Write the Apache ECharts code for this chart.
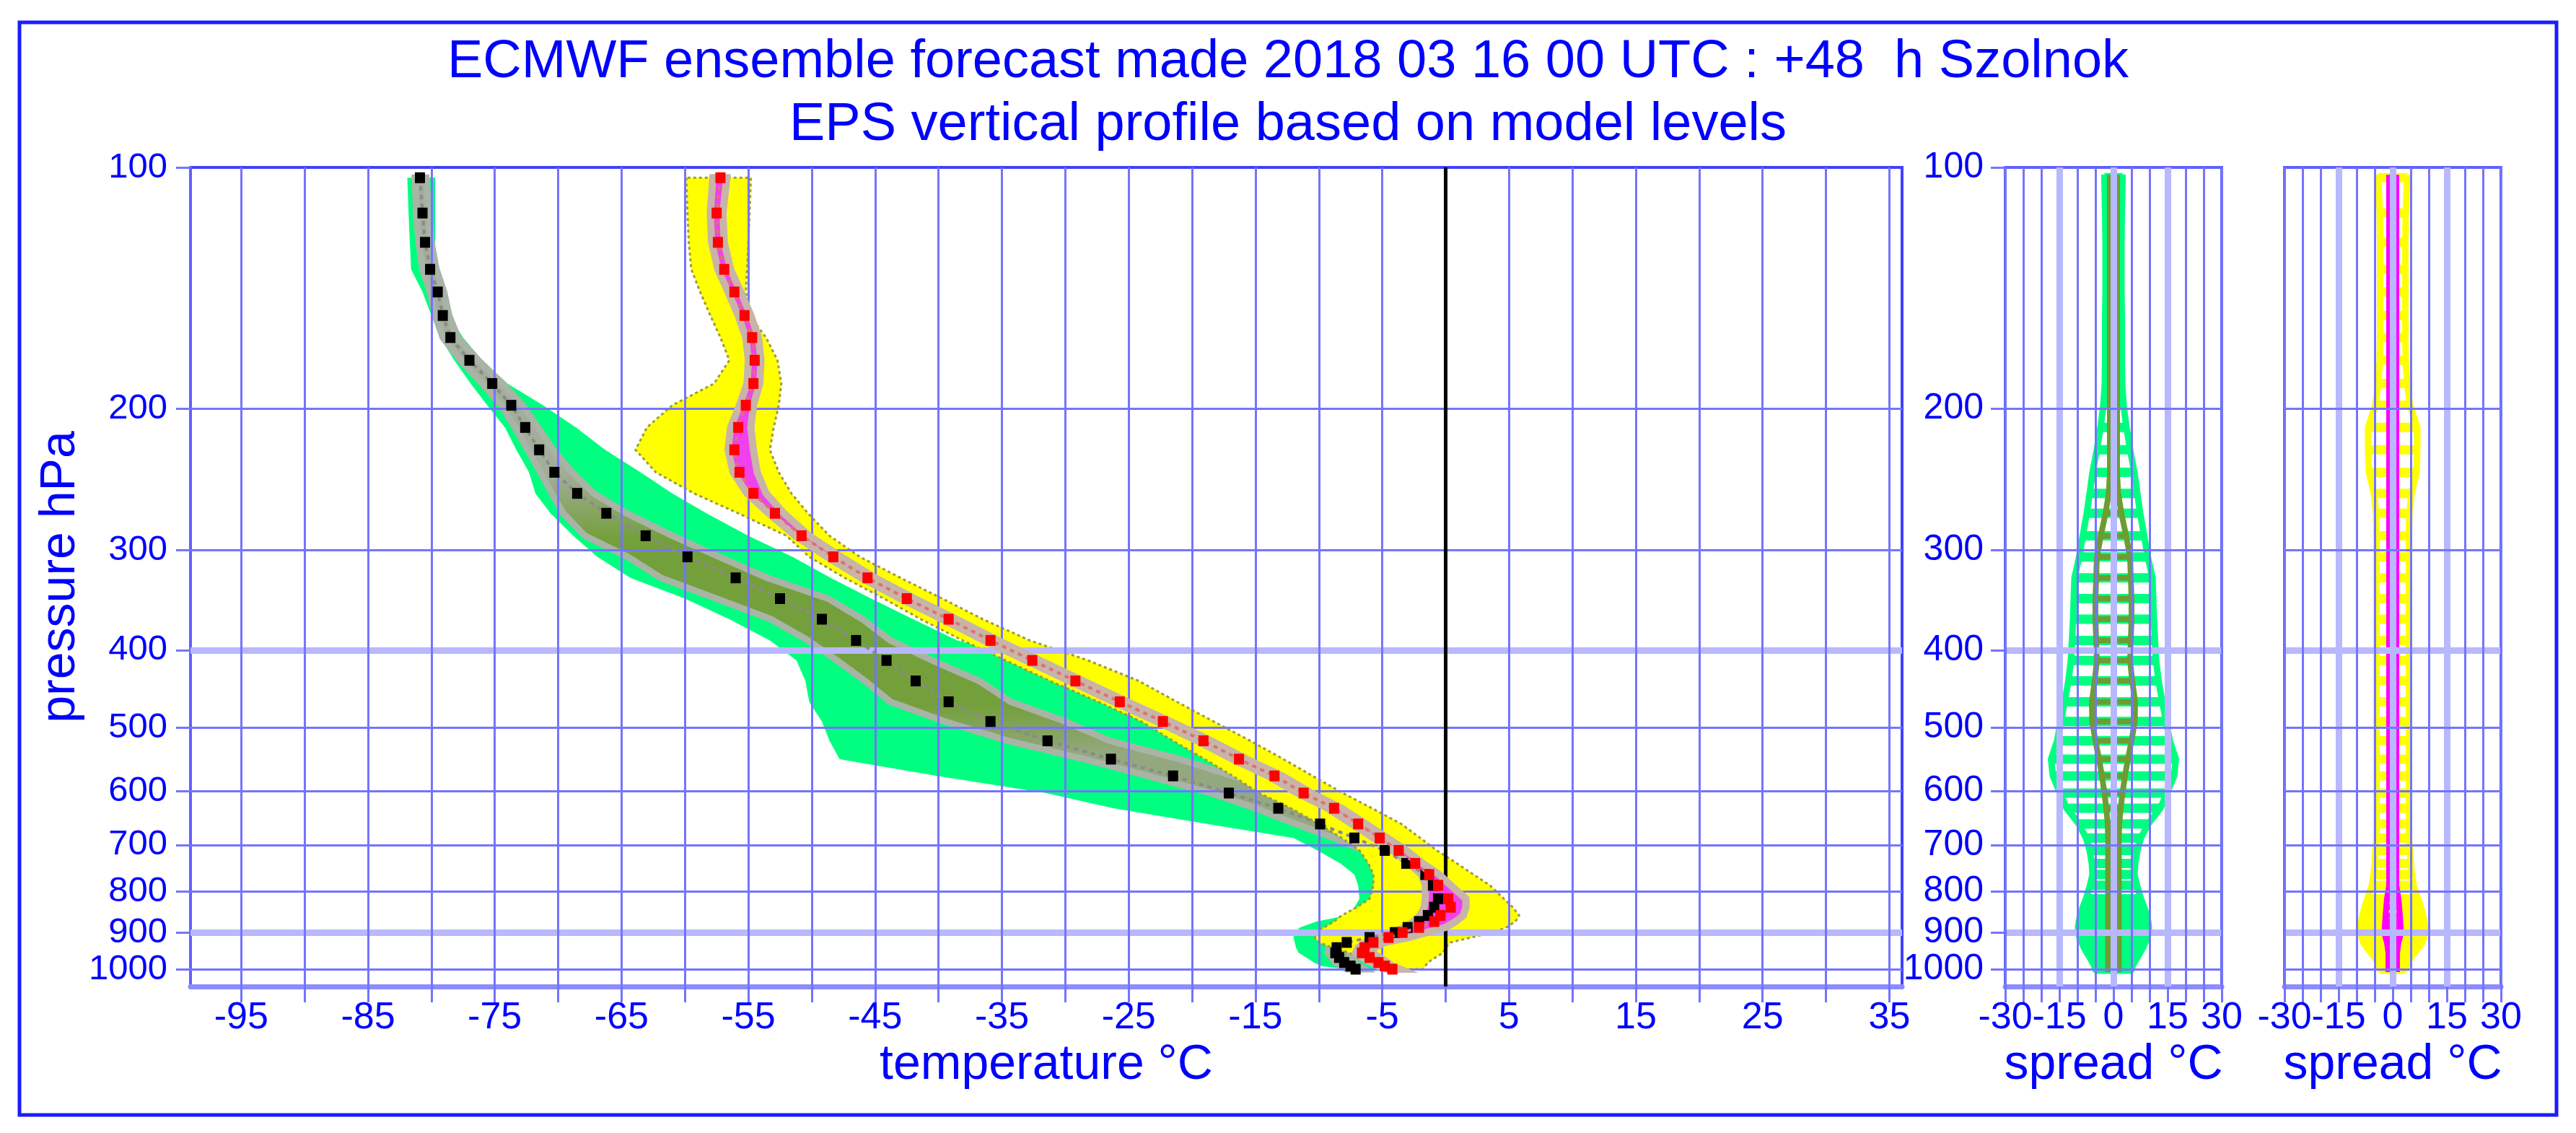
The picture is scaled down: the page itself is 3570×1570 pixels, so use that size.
<!DOCTYPE html>
<html><head><meta charset="utf-8">
<script src="https://cdn.jsdelivr.net/npm/echarts@6/dist/echarts.min.js"></script>
<style>html,body{margin:0;padding:0;background:#fff}#c{width:3570px;height:1570px}</style>
</head><body><div id="c"></div>
<script>
// ---------- data ----------
const levels = [103,114,124,134,143,153,163,174,186,198, 211,225,240,255,270,288,306,325,345,366,
  389,412,437,464,491,519,547,574,603,630, 659,686,711,738,762,786,817,837,857,872,
  887,900,913,926,940,954,967,981,991,1000];

// green profile (black dots)
const dewCtl = [-80.9,-80.7,-80.5,-80.1,-79.5,-79.1,-78.5,-77.0,-75.2,-73.7,
  -72.6,-71.5,-70.3,-68.5,-66.2,-63.1,-59.8,-56.0,-52.5,-49.2,
  -46.5,-44.1,-41.8,-39.2,-35.9,-31.4,-26.4,-21.5,-17.1,-13.2,
  -9.9,-7.2,-4.8,-3.1,-1.6,-1.0,-0.6,-0.9,-1.4,-2.1,
  -3.0,-4.0,-6.0,-7.8,-8.6,-8.7,-8.4,-8.0,-7.5,-7.1];
const dewMin = [-81.9,-81.8,-81.7,-81.6,-80.7,-80.0,-79.3,-78.2,-76.9,-75.6,
  -74.2,-73.3,-72.3,-71.8,-70.6,-68.8,-66.9,-64.3,-60.0,-56.5,
  -53.3,-51.2,-50.5,-50.2,-49.2,-48.6,-47.8,-40.1,-31.5,-26.2,
  -18.8,-12.0,-10.1,-8.3,-7.2,-6.9,-6.8,-7.2,-7.8,-10.2,
  -11.5,-11.9,-12.0,-11.9,-11.8,-11.6,-11.0,-10.4,-9.8,-7.8];
const dewMax = [-79.7,-79.7,-79.7,-79.7,-79.2,-78.6,-77.5,-76.0,-74.0,-71.2,
  -68.6,-66.3,-63.5,-61.0,-58.3,-55.0,-51.5,-48.5,-45.3,-42.0,
  -38.5,-32.0,-28.4,-25.5,-22.6,-20.2,-18.0,-15.8,-13.8,-11.8,
  -8.5,-5.5,-3.2,-1.5,-0.2,0.8,1.0,0.8,0.5,-0.2,
  -1.0,-2.0,-3.5,-5.0,-5.4,-5.5,-5.3,-5.0,-4.6,-4.3];
const dewLo = [-81.3,-81.2,-81.0,-80.7,-80.1,-79.7,-79.1,-77.7,-76.0,-74.5,
  -73.4,-72.4,-71.4,-70.5,-69.6,-67.9,-64.5,-61.9,-57.5,-53.2,
  -50.3,-48.0,-45.8,-43.8,-39.5,-34.5,-28.5,-23.5,-18.5,-15.0,
  -11.8,-8.8,-6.5,-4.5,-3.0,-2.2,-1.8,-2.0,-2.5,-3.2,
  -4.0,-5.2,-7.0,-8.6,-9.2,-9.3,-9.0,-8.7,-8.2,-7.8];
const dewHi = [-80.4,-80.2,-80.0,-79.6,-79.0,-78.6,-77.9,-76.3,-74.4,-72.8,
  -71.6,-70.4,-68.9,-67.2,-64.6,-61.0,-57.3,-53.5,-48.7,-46.0,
  -43.8,-40.5,-36.8,-34.3,-30.0,-26.5,-21.0,-16.8,-13.2,-10.8,
  -8.6,-6.0,-4.2,-2.5,-1.0,-0.2,0.2,0.0,-0.5,-1.2,
  -2.0,-3.0,-5.0,-6.5,-7.4,-7.6,-7.4,-7.1,-6.8,-6.4];

// yellow profile (red dots)
const tCtl = [-57.2,-57.5,-57.4,-56.9,-56.1,-55.3,-54.7,-54.5,-54.6,-55.2,
  -55.8,-56.1,-55.7,-54.6,-52.9,-50.8,-48.3,-45.6,-42.5,-39.2,
  -35.9,-32.6,-29.2,-25.7,-22.3,-19.1,-16.3,-13.5,-11.2,-8.8,
  -6.9,-5.2,-3.7,-2.4,-1.3,-0.6,0.2,0.4,-0.4,-0.9,
  -2.1,-3.4,-4.5,-5.7,-6.4,-6.6,-6.0,-5.3,-4.8,-4.2];
const tMin = [-59.9,-59.8,-59.7,-59.5,-58.8,-58.0,-57.2,-56.5,-57.7,-61.0,
  -63.0,-63.9,-62.3,-59.3,-55.8,-52.0,-50.2,-47.4,-44.3,-41.4,
  -38.1,-34.7,-31.2,-27.4,-24.0,-21.5,-19.0,-16.8,-14.7,-12.2,
  -10.0,-8.2,-6.8,-6.1,-5.7,-5.7,-6.0,-7.0,-8.2,-8.8,
  -9.6,-10.3,-10.3,-10.0,-8.9,-7.6,-6.8,-6.0,-5.4,-4.8];
const tMax = [-54.8,-54.9,-55.0,-55.1,-55.2,-54.9,-53.6,-52.7,-52.4,-52.6,
  -53.0,-53.3,-52.6,-51.6,-50.3,-48.6,-46.2,-43.0,-39.7,-36.5,
  -32.8,-28.2,-24.2,-21.2,-18.3,-15.4,-12.8,-10.5,-8.1,-5.8,
  -3.5,-2.0,-0.7,0.9,2.2,3.5,4.6,5.3,5.8,5.5,
  4.8,3.7,2.0,0.4,0.0,-0.2,-0.8,-1.4,-1.6,-1.8];
const tLo = [-57.8,-58.0,-57.9,-57.4,-56.6,-55.8,-55.2,-55.0,-55.1,-55.7,
  -56.4,-56.6,-56.2,-55.1,-53.4,-51.3,-48.8,-46.1,-43.0,-39.7,
  -36.4,-33.1,-29.7,-26.2,-22.8,-19.6,-16.8,-14.0,-11.7,-9.3,
  -7.4,-5.7,-4.2,-2.9,-1.9,-1.6,-1.6,-1.7,-2.0,-2.5,
  -3.2,-4.2,-5.2,-6.3,-6.9,-7.1,-6.6,-5.9,-5.3,-4.7];
const tHi = [-56.7,-57.0,-56.9,-56.4,-55.6,-54.8,-54.2,-54.0,-54.1,-54.6,
  -54.8,-54.6,-54.3,-53.6,-52.2,-50.2,-47.7,-45.0,-41.9,-38.6,
  -35.3,-32.0,-28.6,-25.1,-21.7,-18.5,-15.7,-12.9,-10.6,-8.2,
  -6.3,-4.6,-3.1,-1.8,-0.5,0.4,1.6,1.6,1.4,0.8,
  0.0,-1.5,-2.9,-4.8,-5.6,-5.8,-5.2,-4.6,-4.2,-3.6];

// spread half-widths
const sprDewOuter = [2.5,2.3,2.2,2.2,2.2,2.3,2.3,2.3,2.4,2.8,
  3.6,4.6,5.8,6.6,7.4,8.5,9.5,10.8,11.0,11.2,
  11.5,11.8,12.5,13.5,14.6,15.6,17.3,16.8,14.8,13.0,
  9.6,7.6,6.6,6.0,5.8,6.5,7.6,8.5,9.2,9.6,
  9.8,9.8,9.4,8.8,8.2,7.4,6.6,5.8,5.3,5.0];
const sprDewInner = [1.0,1.0,1.0,1.0,1.0,1.0,1.0,1.0,1.0,1.0,
  1.0,1.0,1.0,1.3,2.2,3.5,4.6,4.8,5.0,5.0,
  4.8,4.6,5.2,6.0,5.9,5.0,4.0,3.2,2.5,2.0,
  1.6,1.5,1.5,1.5,1.5,1.5,1.5,1.5,1.5,1.5,
  1.5,1.5,1.5,1.5,1.5,1.5,1.5,1.5,1.5,1.5];
const sprTOuter = [4.0,3.6,3.5,3.5,3.5,3.5,3.5,3.6,4.0,4.8,
  6.8,6.8,6.6,5.2,4.6,4.5,4.5,4.5,4.5,4.5,
  4.5,4.5,4.5,4.5,4.5,4.5,4.5,4.5,4.5,4.5,
  4.5,4.5,4.8,5.0,5.3,5.8,7.0,7.8,8.4,8.8,
  9.0,9.0,8.6,8.2,7.2,6.0,5.0,4.2,3.8,3.4];
const sprTInner = [1.0,1.0,1.0,1.0,1.0,1.0,1.0,1.0,1.0,1.0,
  1.0,1.0,1.0,1.0,1.0,1.0,1.0,1.0,1.0,1.0,
  1.0,1.0,1.0,1.0,1.0,1.0,1.0,1.0,1.0,1.0,
  1.0,1.0,1.0,1.0,1.0,1.0,1.6,1.8,2.0,2.1,
  2.2,2.2,2.0,1.6,1.4,1.2,1.2,1.2,1.2,1.2];

// ticks
const pTicks = [100,200,300,400,500,600,700,800,900,1000];
const pDarkLines = [200,300,500,600,700,800,1000];
const pLightLines = [400,900];
const tLabels = [-95,-85,-75,-65,-55,-45,-35,-25,-15,-5,5,15,25,35];
const tGrid = [-95,-90,-85,-80,-75,-70,-65,-60,-55,-50,-45,-40,-35,-30,-25,-20,-15,-10,-5,0,5,10,15,20,25,30,35];
const sprLabels = [-30,-15,0,15,30];
const sprGrid = [-30,-25,-20,-15,-10,-5,0,5,10,15,20,25,30];
const sprLight = [-15,0,15];

// ---------- styling ----------
const FONT = 'Liberation Sans';
const BLUE = '#0000ff';
const GRIDC = '#7474ff';
const LIGHT = '#b8b8ff';
const plain = v => String(v);

const chart = echarts.init(document.getElementById('c'), null, {renderer: 'canvas'});

function xAxisCfg(gi, min, max, tickVals, labelVals, name) {
  return {
    type: 'value', gridIndex: gi, min: min, max: max,
    axisLine: {show: true, onZero: false, lineStyle: {color: '#8c8cff', width: 7}},
    axisTick: {show: true, customValues: tickVals, length: 22, lineStyle: {color: GRIDC, width: 3}},
    axisLabel: {show: true, customValues: labelVals, margin: 18, color: BLUE, fontSize: 52, fontFamily: FONT, formatter: plain},
    splitLine: {show: false},
    name: name, nameLocation: 'middle', nameGap: 70,
    nameTextStyle: {color: BLUE, fontSize: 68, fontFamily: FONT}
  };
}
function yAxisCfg(gi, showLabels, margin, fontSize, name) {
  return {
    type: 'log', logBase: 10, gridIndex: gi, min: 100, max: 1051, inverse: true,
    axisLine: {show: true, onZero: false, lineStyle: {color: '#6060ff', width: 4}},
    axisTick: {show: showLabels, customValues: pTicks, length: 20, lineStyle: {color: GRIDC, width: 3}},
    axisLabel: {show: showLabels, customValues: pTicks, margin: margin, color: BLUE, fontSize: fontSize, fontFamily: FONT, formatter: plain},
    splitLine: {show: false}, minorTick: {show: false}, minorSplitLine: {show: false},
    name: name, nameLocation: 'middle', nameGap: 146, nameMoveOverlap: false,
    nameTextStyle: {color: BLUE, fontSize: 68, fontFamily: FONT}
  };
}

function gridLineSeries(gi, vDark, vLight, hDark, hLight) {
  const data = [];
  vLight.forEach(v => data.push({xAxis: v, lineStyle: {color: LIGHT, width: 9, type: 'solid'}}));
  hLight.forEach(v => data.push({yAxis: v, lineStyle: {color: LIGHT, width: 9, type: 'solid'}}));
  vDark.forEach(v => data.push({xAxis: v, lineStyle: {color: GRIDC, width: 3, type: 'solid'}}));
  hDark.forEach(v => data.push({yAxis: v, lineStyle: {color: GRIDC, width: 3, type: 'solid'}}));
  return {
    type: 'line', xAxisIndex: gi, yAxisIndex: gi, data: [], z: 1, silent: true,
    markLine: {silent: true, symbol: ['none', 'none'], animation: false, label: {show: false}, data: data}
  };
}

function bandSeries(gi, lo, hi, style, z) {
  return {
    type: 'custom', xAxisIndex: gi, yAxisIndex: gi, z: z, silent: true,
    data: [[lo[0], levels[0]]],
    renderItem: function (params, api) {
      const pts = [];
      for (let i = 0; i < levels.length; i++) pts.push(api.coord([lo[i], levels[i]]));
      for (let i = levels.length - 1; i >= 0; i--) pts.push(api.coord([hi[i], levels[i]]));
      const st = (typeof style === 'function') ? style(api) : style;
      return {type: 'polygon', shape: {points: pts}, style: st};
    }
  };
}

// inner green band: greyish near top, olive in mid-troposphere, greyish-olive below
function dewInnerStyle(api) {
  const y = p => api.coord([0, p])[1];
  const y0 = y(100), y1 = y(1051);
  const off = p => (y(p) - y0) / (y1 - y0);
  return {
    fill: new echarts.graphic.LinearGradient(0, y0, 0, y1, [
      {offset: 0, color: '#a2ad9a'}, {offset: off(240), color: '#a2ad9a'},
      {offset: off(290), color: '#74a03c'}, {offset: off(470), color: '#74a03c'},
      {offset: off(540), color: '#94a880'}, {offset: 1, color: '#94a880'}], true),
    stroke: '#a9b4a6', lineWidth: 9
  };
}

function dotSeries(vals, dotColor, lineColor, z) {
  return {
    type: 'line', xAxisIndex: 0, yAxisIndex: 0, z: z, silent: true,
    data: levels.map((p, i) => [vals[i], p]),
    symbol: 'rect', symbolSize: [14, 15], showSymbol: true,
    itemStyle: {color: dotColor},
    lineStyle: {color: lineColor, width: 4, type: [6, 6]}
  };
}

function spreadBars(gi, half, color, h, z) {
  return {
    type: 'custom', xAxisIndex: gi, yAxisIndex: gi, z: z, silent: true,
    data: levels.map((p, i) => [half[i], p]),
    renderItem: function (params, api) {
      const w = api.value(0), p = api.value(1);
      const a = api.coord([-w, p]), b = api.coord([w, p]);
      return {type: 'rect', shape: {x: a[0], y: a[1] - h / 2, width: b[0] - a[0], height: h}, style: {fill: color}};
    }
  };
}
function spreadOutline(gi, half, color, lw, z) {
  return {
    type: 'custom', xAxisIndex: gi, yAxisIndex: gi, z: z, silent: true,
    data: [[0, levels[0]]],
    renderItem: function (params, api) {
      const pts = [];
      for (let i = 0; i < levels.length; i++) pts.push(api.coord([-half[i], levels[i]]));
      for (let i = levels.length - 1; i >= 0; i--) pts.push(api.coord([half[i], levels[i]]));
      return {type: 'polygon', shape: {points: pts}, style: {fill: null, stroke: color, lineWidth: lw}};
    }
  };
}

const option = {
  backgroundColor: '#ffffff',
  animation: false,
  title: [
    {text: 'ECMWF ensemble forecast made 2018 03 16 00 UTC : +48  h Szolnok', left: 'center', top: 45,
     textStyle: {color: BLUE, fontSize: 74, fontWeight: 'normal', fontFamily: FONT}},
    {text: 'EPS vertical profile based on model levels', left: 'center', top: 132,
     textStyle: {color: BLUE, fontSize: 74, fontWeight: 'normal', fontFamily: FONT}}
  ],
  graphic: [{type: 'rect', shape: {x: 27, y: 31, width: 3516, height: 1514},
    style: {fill: null, stroke: '#1c1cff', lineWidth: 5}, silent: true, z: 0}],
  grid: [
    {left: 264, top: 232, width: 2372, height: 1135, show: true, borderColor: '#4040ff', borderWidth: 4, backgroundColor: 'transparent'},
    {left: 2779, top: 232, width: 300, height: 1135, show: true, borderColor: '#6060ff', borderWidth: 4, backgroundColor: 'transparent'},
    {left: 3166, top: 232, width: 300, height: 1135, show: true, borderColor: '#6060ff', borderWidth: 4, backgroundColor: 'transparent'}
  ],
  xAxis: [
    xAxisCfg(0, -99, 36, tGrid, tLabels, 'temperature °C'),
    xAxisCfg(1, -30, 30, sprGrid, sprLabels, 'spread °C'),
    xAxisCfg(2, -30, 30, sprGrid, sprLabels, 'spread °C')
  ],
  yAxis: [
    yAxisCfg(0, true, 32, 49, 'pressure hPa'),
    yAxisCfg(1, true, 30, 50, ''),
    yAxisCfg(2, false, 30, 50, '')
  ],
  series: [
    gridLineSeries(0, tGrid.filter(v => v !== 0), [], pDarkLines, pLightLines),
    gridLineSeries(1, sprGrid.filter(v => sprLight.indexOf(v) < 0), sprLight, pDarkLines, pLightLines),
    gridLineSeries(2, sprGrid.filter(v => sprLight.indexOf(v) < 0), sprLight, pDarkLines, pLightLines),
    // main plot bands
    bandSeries(0, dewMin, dewMax, {fill: '#00ff80'}, 2),
    bandSeries(0, dewLo, dewHi, dewInnerStyle, 3),
    bandSeries(0, tMin, tMax, {fill: '#ffff00', stroke: '#9c9c40', lineWidth: 3, lineDash: [4, 4]}, 4),
    bandSeries(0, tLo, tHi, {fill: '#f040f0', stroke: '#c8b4a8', lineWidth: 10}, 5),
    dotSeries(dewCtl, '#000000', '#8a8a8a', 6),
    dotSeries(tCtl, '#ff0000', '#e07070', 7),
    {type: 'line', xAxisIndex: 0, yAxisIndex: 0, data: [], z: 8, silent: true,
     markLine: {silent: true, symbol: ['none', 'none'], animation: false, label: {show: false},
       data: [{xAxis: 0, lineStyle: {color: '#000000', width: 5, type: 'solid'}}]}},
    // spread panel 1
    spreadBars(1, sprDewOuter, '#00ff80', 13, 2),
    spreadOutline(1, sprDewOuter, '#00ff80', 9, 2),
    spreadBars(1, sprDewInner, '#6e9c32', 8, 3),
    spreadOutline(1, sprDewInner, '#6e9c32', 8, 3),
    // spread panel 2
    spreadBars(2, sprTOuter, '#ffff00', 13, 2),
    spreadOutline(2, sprTOuter, '#ffff00', 9, 2),
    spreadBars(2, sprTInner, '#ff00ff', 8, 3),
    spreadOutline(2, sprTInner, '#ff00ff', 8, 3)
  ]
};
chart.setOption(option);
</script></body></html>
